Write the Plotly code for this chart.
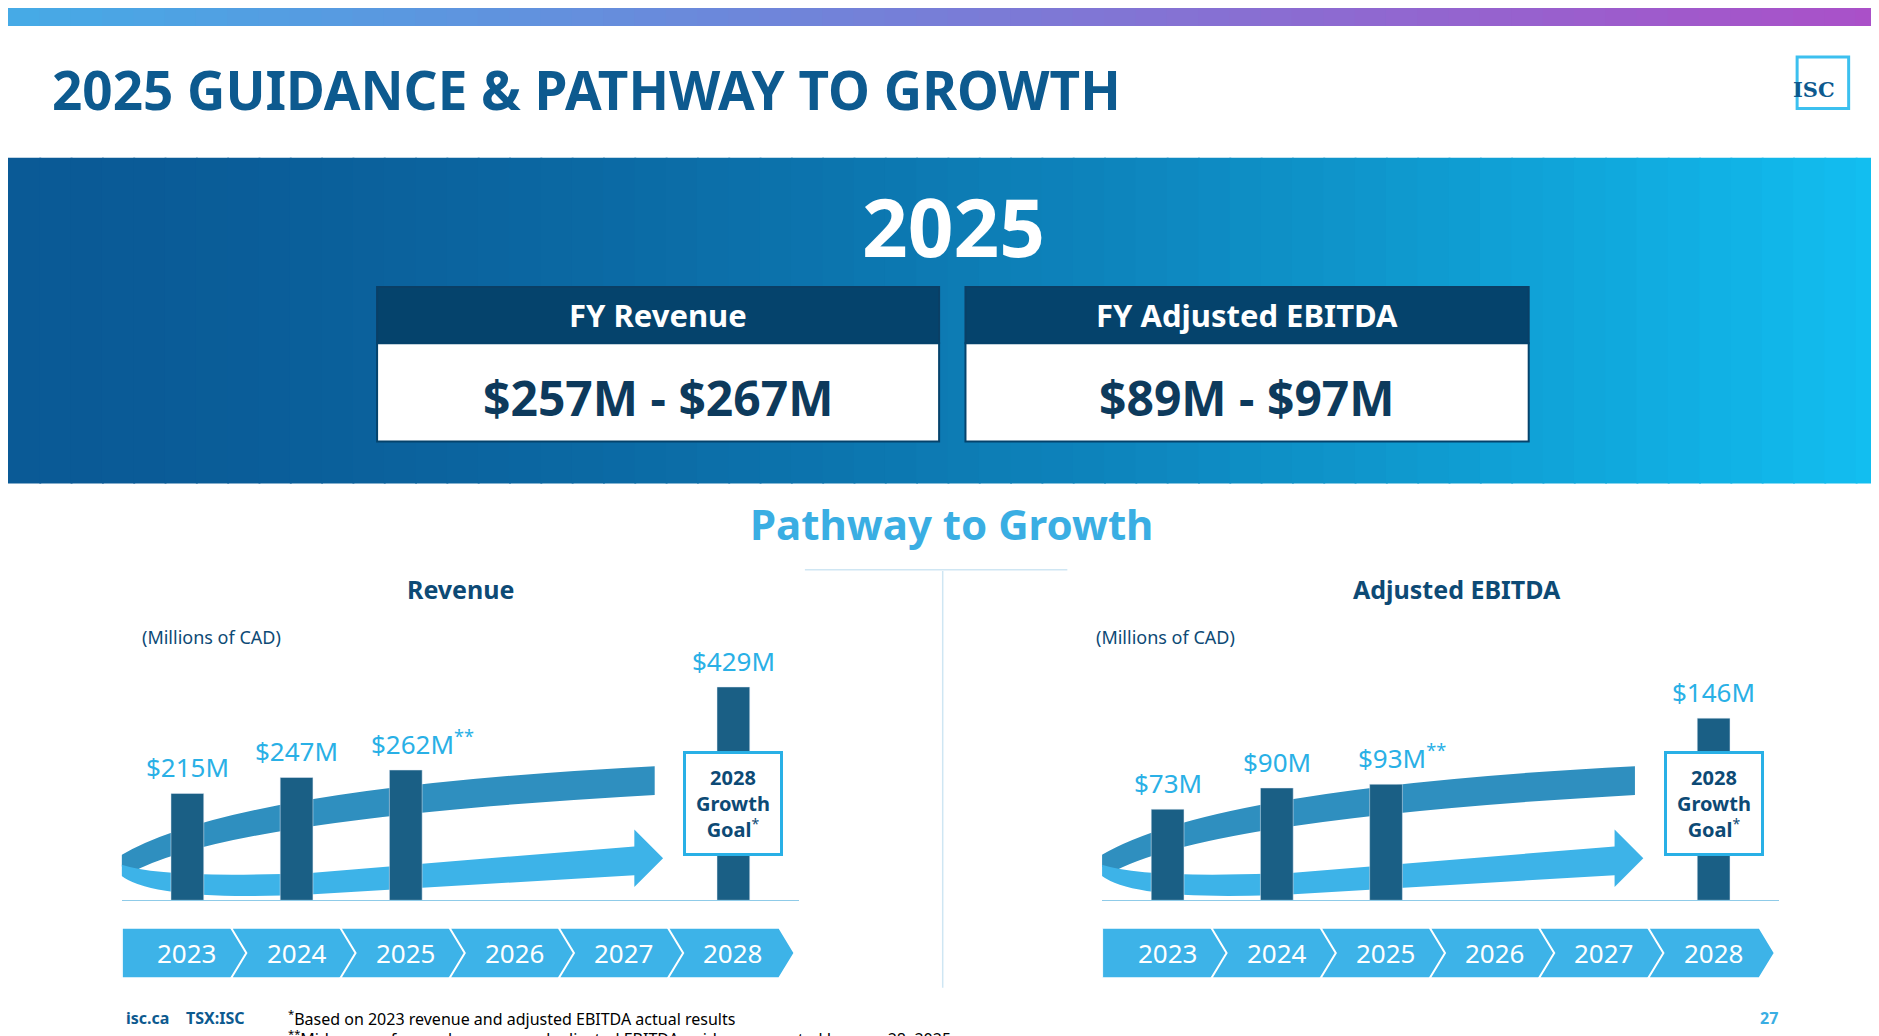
import plotly.graph_objects as go

years = [2023, 2024, 2025, 2026, 2027, 2028]
bar_years = [2023, 2024, 2025, 2028]
revenue = [215, 247, 262, 429]
revenue_labels = ["$215M", "$247M", "$262M**", "$429M"]
ebitda = [73, 90, 93, 146]
ebitda_labels = ["$73M", "$90M", "$93M**", "$146M"]

W0, H0 = 1568.0, 865.0
FONT = "Noto Sans"
BAR = "#1a5f85"
CYAN = "#29b0e6"


def px(x):
    return x / W0


def py(y):
    return 1 - y / H0


def lerp(c1, c2, t):
    return "rgb(%d,%d,%d)" % tuple(round(a + (b - a) * t) for a, b in zip(c1, c2))


def note(text, x, y, size, color, family=FONT, **kw):
    d = dict(text=text, x=x, y=y, xref="paper", yref="paper", showarrow=False,
             xanchor="center", yanchor="middle", font=dict(family=family, size=size, color=color))
    d.update(kw)
    return d


fig = go.Figure()
shapes, ann = [], []

# top gradient strip and blue band
n = 60
for i in range(n):
    t = i / (n - 1)
    shapes.append(dict(type="rect", xref="paper", yref="paper", x0=i / n, x1=(i + 1) / n + 0.001,
                       y0=py(15), y1=1, line_width=0,
                       fillcolor=lerp((70, 170, 230), (170, 80, 200), t)))
    shapes.append(dict(type="rect", xref="paper", yref="paper", x0=i / n, x1=(i + 1) / n + 0.001,
                       y0=py(397), y1=py(125), line_width=0,
                       fillcolor=lerp((10, 90, 150), (18, 190, 240), t ** 1.6)))

ann.append(note("<b>2025 GUIDANCE & PATHWAY TO GROWTH</b>", px(35), py(68), 53, "#0d5a8f", xanchor="left"))
shapes.append(dict(type="rect", xref="paper", yref="paper", x0=px(1493), x1=px(1536), y0=py(84), y1=py(41),
                   line=dict(color="#3cc0ef", width=3), fillcolor="white"))
ann.append(note("<b>ISC</b>", px(1507), py(68), 21, "#0d5a8f", family="DejaVu Serif"))
ann.append(note("<b>2025</b>", 0.503, py(182), 80, "white"))

for x0, x1, head, val in [(308, 777, "FY Revenue", "$257M - $267M"), (799, 1269, "FY Adjusted EBITDA", "$89M - $97M")]:
    shapes.append(dict(type="rect", xref="paper", yref="paper", x0=px(x0), x1=px(x1), y0=py(280), y1=py(233),
                       line=dict(color="#0a3f66", width=2), fillcolor="#05436c"))
    shapes.append(dict(type="rect", xref="paper", yref="paper", x0=px(x0), x1=px(x1), y0=py(362), y1=py(280),
                       line=dict(color="#05436c", width=2), fillcolor="white"))
    ann.append(note("<b>%s</b>" % head, px((x0 + x1) / 2), py(256), 31, "white"))
    ann.append(note("<b>%s</b>" % val, px((x0 + x1) / 2), py(325), 48, "#0d3a5c"))

ann.append(note("<b>Pathway to Growth</b>", 0.502, py(430), 42, "#3aaee3"))
shapes.append(dict(type="line", xref="paper", yref="paper", x0=px(665), x1=px(884), y0=py(469), y1=py(469),
                   line=dict(color="#cfe6f3", width=1.5)))
shapes.append(dict(type="line", xref="paper", yref="paper", x0=px(780), x1=px(780), y0=py(470), y1=py(818),
                   line=dict(color="#cfe6f3", width=1.5)))

panels = [
    ("x", "y", revenue, revenue_labels, 542, "Revenue", 95, 110),
    ("x2", "y2", ebitda, ebitda_labels, 216, "Adjusted EBITDA", 913, 906),
]
for xa, ya, vals, labels, ymax, title, d0, mx in panels:
    ppu = 225 / ymax

    def dy(pyv):
        return (745 - pyv) / ppu

    def dx(pxv):
        return 2022.4 + (pxv - d0) / 91.2

    def path(pts, close=True):
        s = ""
        for cmd, *xy in pts:
            s += cmd + " " + " ".join("%f,%f" % (dx(xy[k]), dy(xy[k + 1])) for k in range(0, len(xy), 2)) + " "
        return s + ("Z" if close else "")

    up = path([("M", -8 + d0, 712), ("Q", d0 + 80, 652, d0 + 445, 633), ("L", d0 + 445, 657),
               ("Q", d0 + 90, 677, d0 + 8, 722)])
    lo = path([("M", d0 - 8, 712), ("Q", d0 - 5, 748, d0 + 160, 740), ("L", d0 + 428, 724),
               ("L", d0 + 428, 734), ("L", d0 + 452, 710), ("L", d0 + 428, 686), ("L", d0 + 428, 700),
               ("L", d0 + 160, 722), ("Q", d0 + 20, 728, d0 - 8, 712)])
    shapes.append(dict(type="path", xref=xa, yref=ya, path=up, fillcolor="#2f8fbf", line_width=0, layer="below"))
    shapes.append(dict(type="path", xref=xa, yref=ya, path=lo, fillcolor="#3db3e8", line_width=0, layer="below"))

    fig.add_trace(go.Bar(x=bar_years, y=vals, xaxis=xa, yaxis=ya, marker_color=BAR, width=0.3,
                         showlegend=False, hoverinfo="skip"))
    for yr, v, lab in zip(bar_years, vals, labels):
        t = lab.replace("**", "<sup>**</sup>")
        ann.append(dict(text=t, x=yr + (0.15 if "**" in lab else 0), y=v, xref=xa, yref=ya, yanchor="bottom",
                        yshift=6, font=dict(family=FONT, size=26, color=CYAN), showarrow=False))
    ann.append(dict(text="<b>2028<br>Growth<br>Goal</b><sup>*</sup>", x=2028, y=dy(664), xref=xa, yref=ya,
                    font=dict(family=FONT, size=20, color="#0d4a75"), bgcolor="white", bordercolor="#29b0e6",
                    borderwidth=3, borderpad=10, showarrow=False))
    # chevrons
    yb, ym, yt = py(810), py(789), py(768)
    for yr in years:
        l, r = yr - 0.6, yr + 0.42
        p = "M %f,%f L %f,%f L %f,%f L %f,%f L %f,%f " % (l, yb, r, yb, r + 0.14, ym, r, yt, l, yt)
        if yr != 2023:
            p += "L %f,%f " % (l + 0.14, ym)
        shapes.append(dict(type="path", xref=xa, yref="paper", path=p + "Z",
                           fillcolor="#3db3e8", line=dict(color="white", width=2)))
        ann.append(dict(text=str(yr), x=yr, y=ym, xref=xa, yref="paper", yanchor="middle",
                        font=dict(family=FONT, size=26, color="white"), showarrow=False))
    ann.append(dict(text="<b>%s</b>" % title, x=(2025.5 if xa == "x" else 2025.65), y=py(485), xref=xa,
                    yref="paper", yanchor="middle", font=dict(family=FONT, size=25, color="#0d4a75"),
                    showarrow=False))
    ann.append(note("(Millions of CAD)", px(mx), py(525), 18, "#0d4a75", xanchor="left"))

ann.append(note("<b>isc.ca    TSX:ISC</b>", px(97), py(843), 16, "#0d5a8f", xanchor="left"))
ann.append(note("<sup>*</sup>Based on 2023 revenue and adjusted EBITDA actual results", px(232), py(843),
                16, "black", xanchor="left"))
ann.append(note("<sup>**</sup>Mid range of annual revenue and adjusted EBITDA guidance reported January 28, 2025",
                px(232), py(860), 16, "black", xanchor="left"))
ann.append(note("<b>27</b>", px(1479), py(843), 16, "#3aaee3", xanchor="right"))

axis_common = dict(showgrid=False, zeroline=False, showticklabels=False, fixedrange=True)
fig.update_layout(
    width=1879, height=1036, margin=dict(l=0, r=0, t=0, b=0),
    plot_bgcolor="rgba(0,0,0,0)", paper_bgcolor="white",
    xaxis=dict(domain=[px(95), px(660)], range=[2022.4, 2028.6], **axis_common,
               showline=True, linecolor="#8fcbe8", anchor="y"),
    yaxis=dict(domain=[py(745), py(520)], range=[0, 542], showline=False, anchor="x", **axis_common),
    xaxis2=dict(domain=[px(913), px(1478)], range=[2022.4, 2028.6], **axis_common,
                showline=True, linecolor="#8fcbe8", anchor="y2"),
    yaxis2=dict(domain=[py(745), py(520)], range=[0, 216], showline=False, anchor="x2", **axis_common),
    shapes=shapes, annotations=ann,
)
fig.write_html("out.html")
